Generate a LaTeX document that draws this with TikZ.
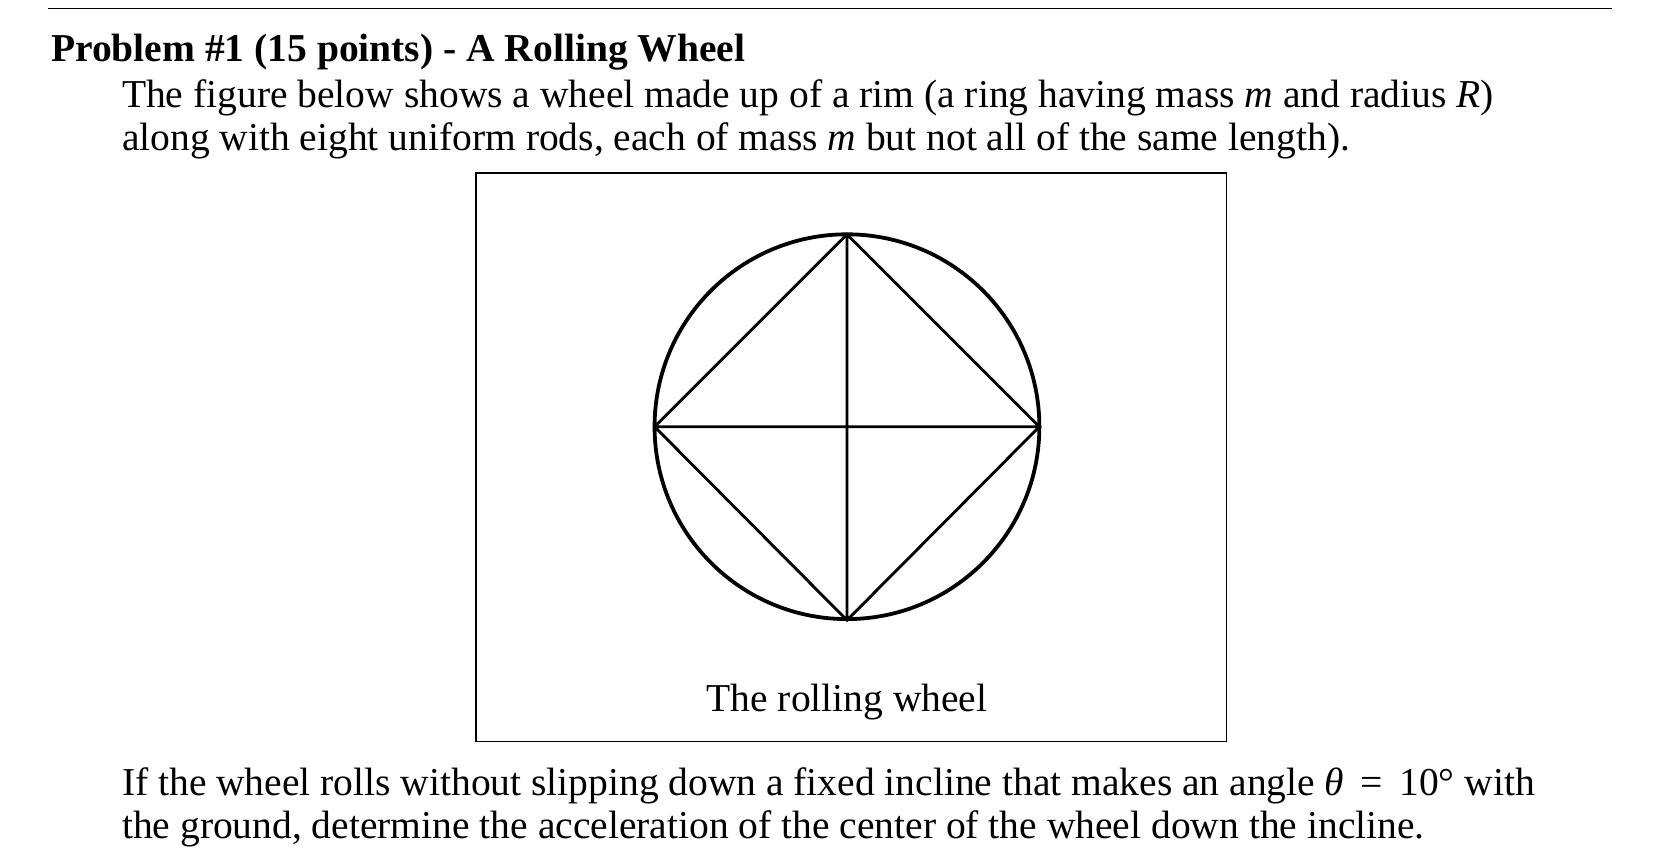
\documentclass[tikz,border=0pt]{standalone}
\usepackage{fontspec}
\setmainfont{Liberation Serif}
\begin{document}
\begin{tikzpicture}[x=0.34pt,y=-0.34pt,
  txt/.style={anchor=base west,inner sep=0pt,font=\fontsize{12.5}{14}\selectfont},
  rod/.style={line width=0.9pt}]
\useasboundingbox (0,0) rectangle (1550,799);
\draw[line width=0.5pt] (45,8) -- (1500,8);
\node[txt,font=\fontsize{12.5}{14}\selectfont\bfseries] (title) at (47,57) {Problem \#1 (15 points) - A Rolling Wheel};
\node[txt] (l1) at (113,100) {The figure below shows a wheel made up of a rim (a ring having mass \textit{m} and radius \textit{R})};
\node[txt] (l2) at (113,140) {along with eight uniform rods, each of mass \textit{m} but not all of the same length).};
\draw[line width=0.5pt] (443,161) rectangle (1141,690);
\coordinate (c) at (788,397);
\coordinate (t) at (788,218);
\coordinate (b) at (788,577);
\coordinate (l) at (609,397);
\coordinate (r) at (967,397);
\draw[line width=1.2pt] (c) circle[radius=179];
\draw[rod] (t) -- (b) (l) -- (r) (t) -- (r) -- (b) -- (l) -- cycle;
\node[anchor=base,inner sep=0pt,font=\fontsize{12.5}{14}\selectfont] (cap) at (788,662) {The rolling wheel};
\node[txt] (l3) at (113,740) {If the wheel rolls without slipping down a fixed incline that makes an angle \textit{θ} \,=\, 10° with};
\node[txt] (l4) at (113,780) {the ground, determine the acceleration of the center of the wheel down the incline.};
\end{tikzpicture}
\end{document}
